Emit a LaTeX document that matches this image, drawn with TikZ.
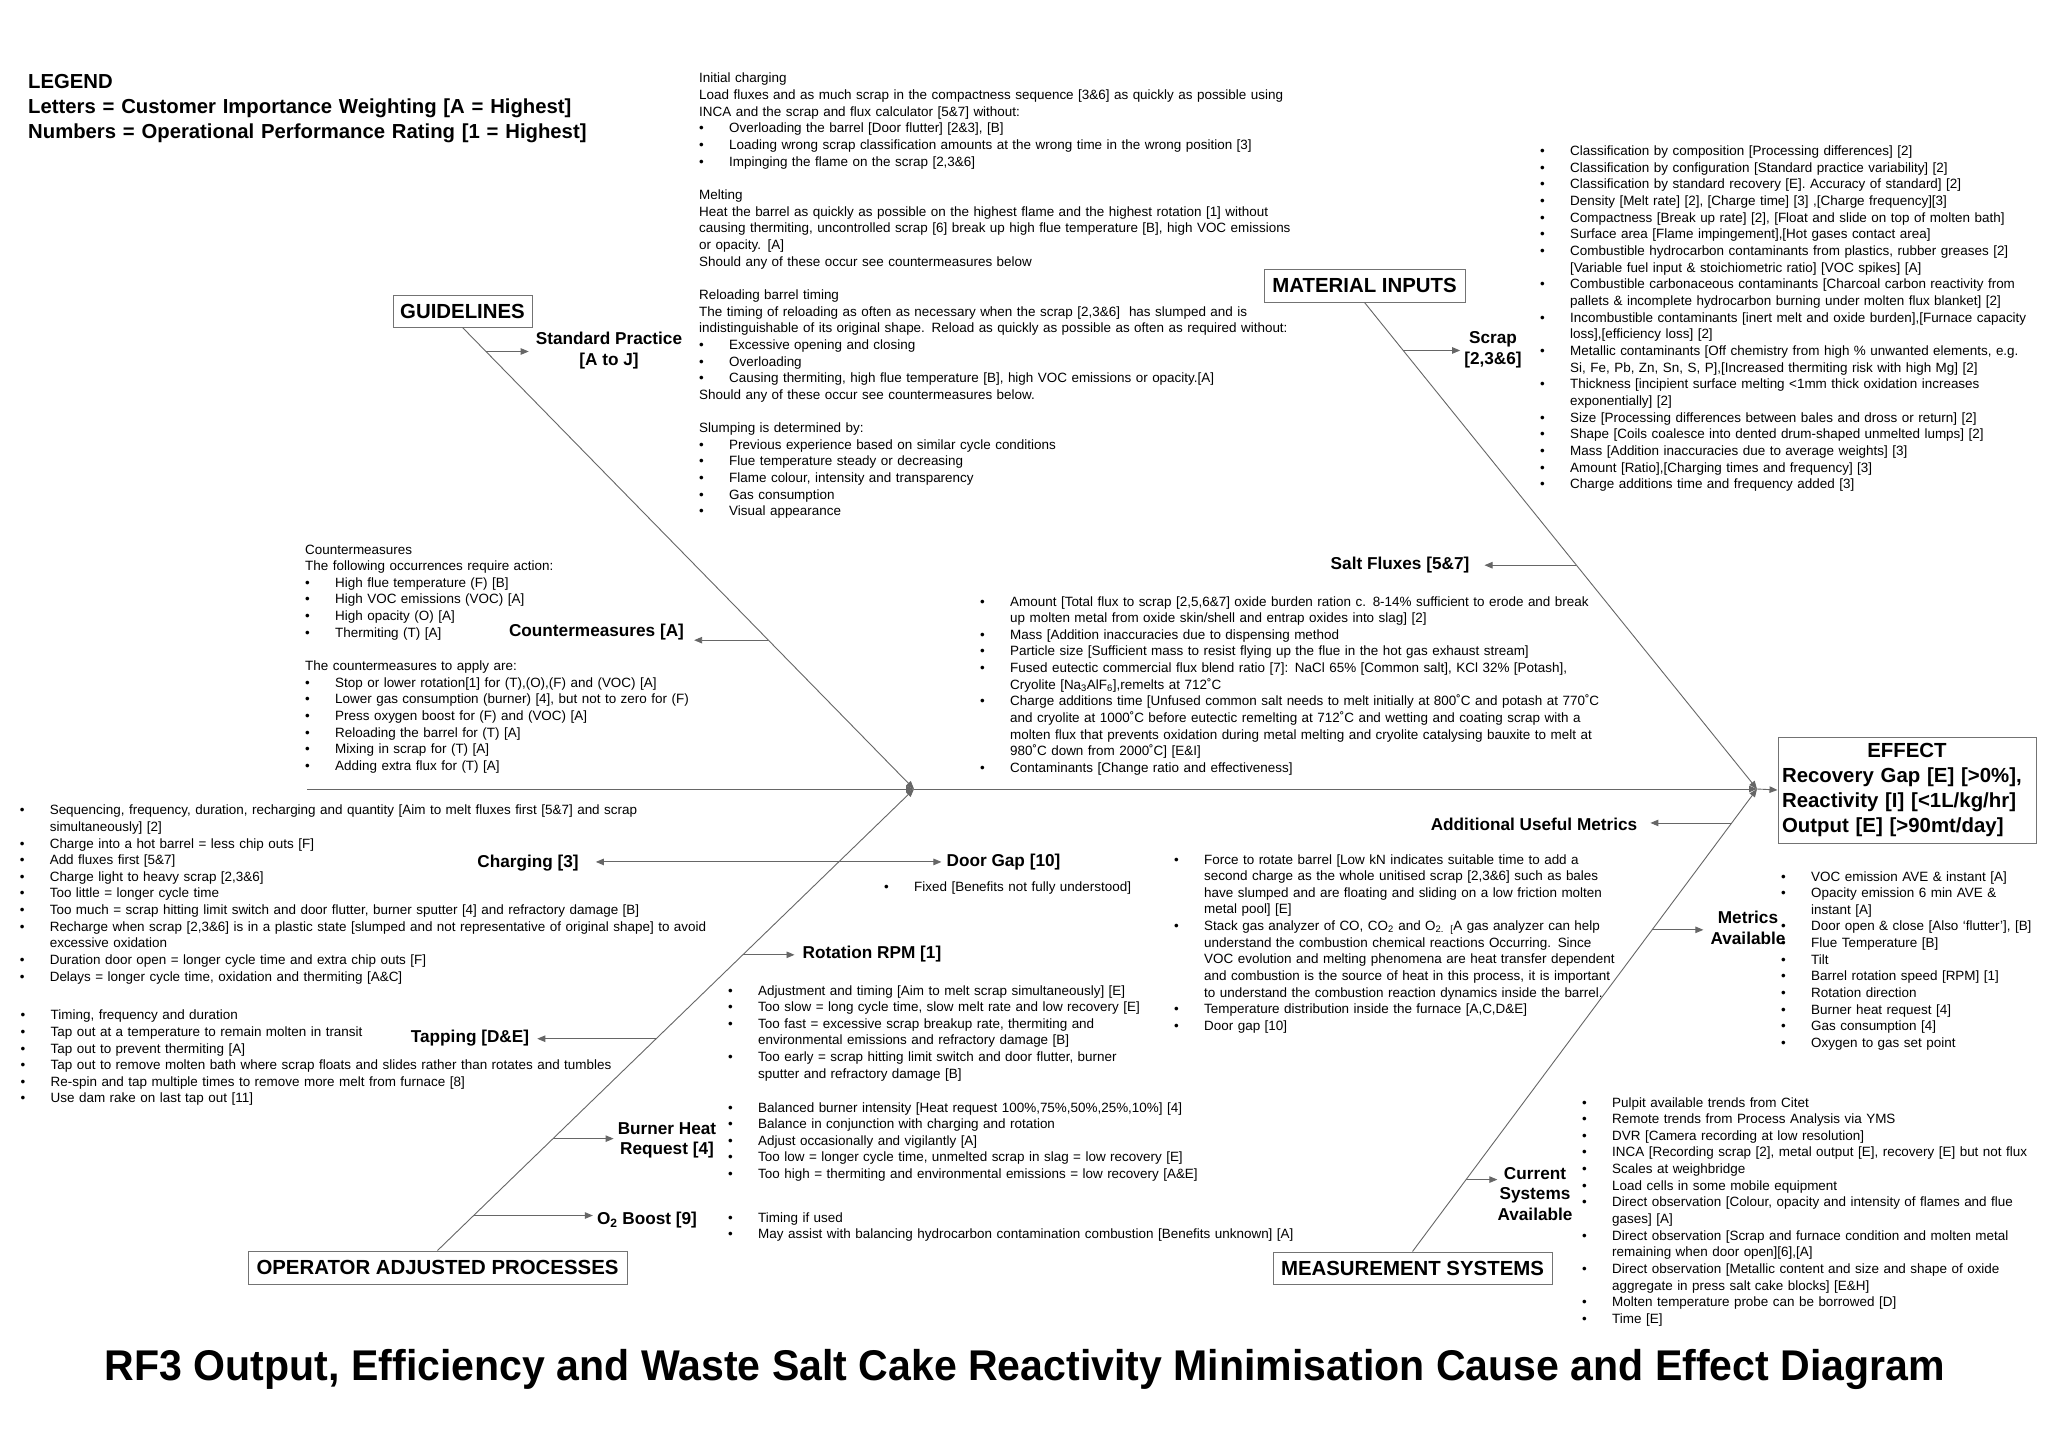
\documentclass[tikz,border=0pt]{standalone}
\usepackage{fontspec}
\setmainfont{Liberation Sans}
\newfontfamily\titlefont{Liberation Sans}[FakeStretch=0.955]
\usetikzlibrary{arrows.meta,calc}

\newcommand{\bul}{\makebox[30pt][l]{\textbullet}}
\newcommand{\ind}{\hspace*{30pt}}

\begin{document}
\begin{tikzpicture}[x=1pt, y=-1pt,
    branch/.style={draw=black!60, line width=0.9pt, -{Triangle[length=8pt,width=6.5pt]}},
    catbox/.style={draw=black!55, line width=1pt, font=\fontsize{20.4}{25}\selectfont\bfseries, inner sep=0pt},
    cause/.style={font=\fontsize{17.2}{20.6}\selectfont\bfseries, inner sep=0pt, align=center},
    textblock/.style={anchor=base west, inner sep=0pt, text width=720pt, align=left, font=\fontsize{13.45}{16.65}\selectfont}]

    % page
    \fill[white] (0,0) rectangle (2048,1450);
    \useasboundingbox (0,0) rectangle (2048,1450);

    % legend
    \node[textblock, font=\fontsize{20.3}{25}\selectfont\bfseries] (legend) at (28,89) {LEGEND\\
        Letters = Customer Importance Weighting [A = Highest]\\
        Numbers = Operational Performance Rating [1 = Highest]};

    % category boxes
    \node[catbox, minimum width=139pt, minimum height=32pt] (gl) at (462.5,311) {GUIDELINES};
    \node[catbox, minimum width=201pt, minimum height=33pt] (mi) at (1364.5,285.5) {MATERIAL INPUTS};
    \node[catbox, minimum width=379pt, minimum height=33pt] (op) at (437.5,1267.5) {OPERATOR ADJUSTED PROCESSES};
    \node[catbox, minimum width=279pt, minimum height=32pt] (ms) at (1412.5,1268) {MEASUREMENT SYSTEMS};

    % effect
    \node[catbox, minimum width=258pt, minimum height=106pt, text width=250pt, align=left] (eff) at (1907,790)
        {\makebox[250pt]{EFFECT}\\
        Recovery Gap [E] [>0\%],\\
        Reactivity [I] [<1L/kg/hr]\\
        Output [E] [>90mt/day]};

    % spine
    \coordinate (tail) at (307,789);
    \coordinate (j1) at (914,789);
    \coordinate (j2) at (1757,789);
    \draw[branch] (tail) -- (j1);
    \draw[branch] (j1) -- (j2);
    \draw[branch] (j2) -- (eff.west);

    % bones
    \draw[branch] (gl.south) -- (j1);
    \draw[branch] (op.north) -- (j1);
    \draw[branch] (mi.south) -- (j2);
    \draw[branch] (ms.north) -- (j2);

    % points on the bones
    \path (gl.south) -- (j1) coordinate[pos=0.052] (bsp) coordinate[pos=0.6775] (bcm);
    \path (op.north) -- (j1) coordinate[pos=0.0758] (bo2) coordinate[pos=0.2424] (bbur)
        coordinate[pos=0.4589] (btap) coordinate[pos=0.6407] (brot) coordinate[pos=0.842] (bch);
    \path (mi.south) -- (j2) coordinate[pos=0.0986] (bscr) coordinate[pos=0.54] (bsf);
    \path (ms.north) -- (j2) coordinate[pos=0.1555] (bcsa) coordinate[pos=0.6955] (bmav) coordinate[pos=0.9266] (baum);

    % causes
    \node[cause] (sp) at (609,350.5) {Standard Practice\\ {[A to J]}};
    \node[cause] (cm) at (596.5,632) {Countermeasures [A]};
    \node[cause] (ch) at (528,863) {Charging [3]};
    \node[cause] (dg) at (1003.5,862) {Door Gap [10]};
    \node[cause] (rot) at (872,954) {Rotation RPM [1]};
    \node[cause] (tap) at (470,1038) {Tapping [D\&E]};
    \node[cause] (bur) at (667,1140.5) {Burner Heat\\ Request [4]};
    \node[cause] (o2) at (647,1220) {O\textsubscript{2} Boost [9]};
    \node[cause] (scr) at (1493,350) {Scrap\\ {[2,3\&6]}};
    \node[cause] (sf) at (1400,565) {Salt Fluxes [5\&7]};
    \node[cause] (aum) at (1534,824) {Additional Useful Metrics};
    \node[cause] (mav) at (1748,928) {Metrics\\ Available};
    \node[cause] (csa) at (1535,1193.7) {Current\\ Systems\\ Available};

    % arrows from the bones to the causes
    \foreach \b/\c/\d in {bsp/sp/-7, bch/dg/-5, brot/rot/-8, bbur/bur/-4, bo2/o2/-4, bscr/scr/-4, bmav/mav/-7, bcsa/csa/0}
        \draw[branch] (\b) -- ($(\b -| \c.west)+(\d,0)$);
    \foreach \b/\c/\d in {bcm/cm/10, bch/ch/17, btap/tap/8, bsf/sf/15, baum/aum/13}
        \draw[branch] (\b) -- ($(\b -| \c.east)+(\d,0)$);

    % notes for guidelines
    \node[textblock] (stdtext) at (699,83) {Initial charging\\
        Load fluxes and as much scrap in the compactness sequence [3\&6] as quickly as possible using\\
        INCA and the scrap and flux calculator [5\&7] without:\\
        \bul Overloading the barrel [Door flutter] [2\&3], [B]\\
        \bul Loading wrong scrap classification amounts at the wrong time in the wrong position [3]\\
        \bul Impinging the flame on the scrap [2,3\&6]\\~\\
        Melting\\
        Heat the barrel as quickly as possible on the highest flame and the highest rotation [1] without\\
        causing thermiting, uncontrolled scrap [6] break up high flue temperature [B], high VOC emissions\\
        or opacity. [A]\\
        Should any of these occur see countermeasures below\\~\\
        Reloading barrel timing\\
        The timing of reloading as often as necessary when the scrap [2,3\&6]\ \ has slumped and is\\
        indistinguishable of its original shape. Reload as quickly as possible as often as required without:\\
        \bul Excessive opening and closing\\
        \bul Overloading\\
        \bul Causing thermiting, high flue temperature [B], high VOC emissions or opacity.[A]\\
        Should any of these occur see countermeasures below.\\~\\
        Slumping is determined by:\\
        \bul Previous experience based on similar cycle conditions\\
        \bul Flue temperature steady or decreasing\\
        \bul Flame colour, intensity and transparency\\
        \bul Gas consumption\\
        \bul Visual appearance};

    \node[textblock] (cmtext) at (305,554) {Countermeasures\\
        The following occurrences require action:\\
        \bul High flue temperature (F) [B]\\
        \bul High VOC emissions (VOC) [A]\\
        \bul High opacity (O) [A]\\
        \bul Thermiting (T) [A]\\~\\
        The countermeasures to apply are:\\
        \bul Stop or lower rotation[1] for (T),(O),(F) and (VOC) [A]\\
        \bul Lower gas consumption (burner) [4], but not to zero for (F)\\
        \bul Press oxygen boost for (F) and (VOC) [A]\\
        \bul Reloading the barrel for (T) [A]\\
        \bul Mixing in scrap for (T) [A]\\
        \bul Adding extra flux for (T) [A]};

    % notes for material inputs
    \node[textblock] (scrtext) at (1540,155.7) {\bul Classification by composition [Processing differences] [2]\\
        \bul Classification by configuration [Standard practice variability] [2]\\
        \bul Classification by standard recovery [E]. Accuracy of standard] [2]\\
        \bul Density [Melt rate] [2], [Charge time] [3] ,[Charge frequency][3]\\
        \bul Compactness [Break up rate] [2], [Float and slide on top of molten bath]\\
        \bul Surface area [Flame impingement],[Hot gases contact area]\\
        \bul Combustible hydrocarbon contaminants from plastics, rubber greases [2]\\
        \ind [Variable fuel input \& stoichiometric ratio] [VOC spikes] [A]\\
        \bul Combustible carbonaceous contaminants [Charcoal carbon reactivity from\\
        \ind pallets \& incomplete hydrocarbon burning under molten flux blanket] [2]\\
        \bul Incombustible contaminants [inert melt and oxide burden],[Furnace capacity\\
        \ind loss],[efficiency loss] [2]\\
        \bul Metallic contaminants [Off chemistry from high \% unwanted elements, e.g.\\
        \ind Si, Fe, Pb, Zn, Sn, S, P],[Increased thermiting risk with high Mg] [2]\\
        \bul Thickness [incipient surface melting <1mm thick oxidation increases\\
        \ind exponentially] [2]\\
        \bul Size [Processing differences between bales and dross or return] [2]\\
        \bul Shape [Coils coalesce into dented drum-shaped unmelted lumps] [2]\\
        \bul Mass [Addition inaccuracies due to average weights] [3]\\
        \bul Amount [Ratio],[Charging times and frequency] [3]\\
        \bul Charge additions time and frequency added [3]};

    \node[textblock] (sftext) at (980,606) {\bul Amount [Total flux to scrap [2,5,6\&7] oxide burden ration c. 8-14\% sufficient to erode and break\\
        \ind up molten metal from oxide skin/shell and entrap oxides into slag] [2]\\
        \bul Mass [Addition inaccuracies due to dispensing method\\
        \bul Particle size [Sufficient mass to resist flying up the flue in the hot gas exhaust stream]\\
        \bul Fused eutectic commercial flux blend ratio [7]: NaCl 65\% [Common salt], KCl 32\% [Potash],\\
        \ind Cryolite [Na\textsubscript{3}AlF\textsubscript{6}],remelts at 712˚C\\
        \bul Charge additions time [Unfused common salt needs to melt initially at 800˚C and potash at 770˚C\\
        \ind and cryolite at 1000˚C before eutectic remelting at 712˚C and wetting and coating scrap with a\\
        \ind molten flux that prevents oxidation during metal melting and cryolite catalysing bauxite to melt at\\
        \ind 980˚C down from 2000˚C] [E\&I]\\
        \bul Contaminants [Change ratio and effectiveness]};

    % notes for operator adjusted processes
    \node[textblock] (chtext) at (19.6,814.7) {\bul Sequencing, frequency, duration, recharging and quantity [Aim to melt fluxes first [5\&7] and scrap\\
        \ind simultaneously] [2]\\
        \bul Charge into a hot barrel = less chip outs [F]\\
        \bul Add fluxes first [5\&7]\\
        \bul Charge light to heavy scrap [2,3\&6]\\
        \bul Too little = longer cycle time\\
        \bul Too much = scrap hitting limit switch and door flutter, burner sputter [4] and refractory damage [B]\\
        \bul Recharge when scrap [2,3\&6] is in a plastic state [slumped and not representative of original shape] to avoid\\
        \ind excessive oxidation\\
        \bul Duration door open = longer cycle time and extra chip outs [F]\\
        \bul Delays = longer cycle time, oxidation and thermiting [A\&C]};

    \node[textblock] (taptext) at (20.5,1019.7) {\bul Timing, frequency and duration\\
        \bul Tap out at a temperature to remain molten in transit\\
        \bul Tap out to prevent thermiting [A]\\
        \bul Tap out to remove molten bath where scrap floats and slides rather than rotates and tumbles\\
        \bul Re-spin and tap multiple times to remove more melt from furnace [8]\\
        \bul Use dam rake on last tap out [11]};

    \node[textblock] (dgtext) at (884,891) {\bul Fixed [Benefits not fully understood]};

    \node[textblock] (rottext) at (728,995) {\bul Adjustment and timing [Aim to melt scrap simultaneously] [E]\\
        \bul Too slow = long cycle time, slow melt rate and low recovery [E]\\
        \bul Too fast = excessive scrap breakup rate, thermiting and\\
        \ind environmental emissions and refractory damage [B]\\
        \bul Too early = scrap hitting limit switch and door flutter, burner\\
        \ind sputter and refractory damage [B]};

    \node[textblock] (burtext) at (728,1112) {\bul Balanced burner intensity [Heat request 100\%,75\%,50\%,25\%,10\%] [4]\\
        \bul Balance in conjunction with charging and rotation\\
        \bul Adjust occasionally and vigilantly [A]\\
        \bul Too low = longer cycle time, unmelted scrap in slag = low recovery [E]\\
        \bul Too high = thermiting and environmental emissions = low recovery [A\&E]};

    \node[textblock] (o2text) at (728,1222) {\bul Timing if used\\
        \bul May assist with balancing hydrocarbon contamination combustion [Benefits unknown] [A]};

    % notes for measurement systems
    \node[textblock] (aumtext) at (1174,864) {\bul Force to rotate barrel [Low kN indicates suitable time to add a\\
        \ind second charge as the whole unitised scrap [2,3\&6] such as bales\\
        \ind have slumped and are floating and sliding on a low friction molten\\
        \ind metal pool] [E]\\
        \bul Stack gas analyzer of CO, CO\textsubscript{2} and O\textsubscript{2. [}A gas analyzer can help\\
        \ind understand the combustion chemical reactions Occurring. Since\\
        \ind VOC evolution and melting phenomena are heat transfer dependent\\
        \ind and combustion is the source of heat in this process, it is important\\
        \ind to understand the combustion reaction dynamics inside the barrel.\\
        \bul Temperature distribution inside the furnace [A,C,D\&E]\\
        \bul Door gap [10]};

    \node[textblock] (mavtext) at (1781,881) {\bul VOC emission AVE \& instant [A]\\
        \bul Opacity emission 6 min AVE \&\\
        \ind instant [A]\\
        \bul Door open \& close [Also ‘flutter’], [B]\\
        \bul Flue Temperature [B]\\
        \bul Tilt\\
        \bul Barrel rotation speed [RPM] [1]\\
        \bul Rotation direction\\
        \bul Burner heat request [4]\\
        \bul Gas consumption [4]\\
        \bul Oxygen to gas set point};

    \node[textblock] (csatext) at (1582,1107) {\bul Pulpit available trends from Citet\\
        \bul Remote trends from Process Analysis via YMS\\
        \bul DVR [Camera recording at low resolution]\\
        \bul INCA [Recording scrap [2], metal output [E], recovery [E] but not flux\\
        \bul Scales at weighbridge\\
        \bul Load cells in some mobile equipment\\
        \bul Direct observation [Colour, opacity and intensity of flames and flue\\
        \ind gases] [A]\\
        \bul Direct observation [Scrap and furnace condition and molten metal\\
        \ind remaining when door open][6],[A]\\
        \bul Direct observation [Metallic content and size and shape of oxide\\
        \ind aggregate in press salt cake blocks] [E\&H]\\
        \bul Molten temperature probe can be borrowed [D]\\
        \bul Time [E]};

    % title
    \node[inner sep=0pt, font=\titlefont\fontsize{43}{50}\selectfont\bfseries] (title) at (1025,1369)
        {RF3 Output, Efficiency and Waste Salt Cake Reactivity Minimisation Cause and Effect Diagram};
\end{tikzpicture}
\end{document}
